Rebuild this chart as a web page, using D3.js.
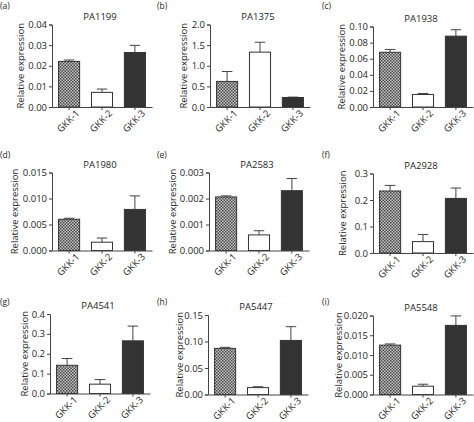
<!DOCTYPE html>
<html>
<head>
<meta charset="utf-8">
<script src="https://cdn.jsdelivr.net/npm/d3@7"></script>
<style>
  body { margin: 0; background: #fff; }
  svg { display: block; font-family: "Open Sans", "Noto Sans", sans-serif; }
</style>
</head>
<body>
<div id="vis"></div>
<script>
// 3x3 grid of bar charts: relative expression per strain, mean + upper SD bar.

const LETTERS = ["a", "b", "c", "d", "e", "f", "g", "h", "i"];
const TITLES  = ["PA1199", "PA1375", "PA1938", "PA1980", "PA2583", "PA2928", "PA4541", "PA5447", "PA5548"];
const GROUPS  = ["GKK-1", "GKK-2", "GKK-3"];

const MEANS = [
  [0.0221, 0.0071, 0.0264],
  [0.62,   1.33,   0.23],
  [0.068,  0.0155, 0.088],
  [0.0060, 0.0016, 0.0079],
  [0.00206, 0.0006, 0.0023],
  [0.234,  0.043,  0.206],
  [0.142,  0.047,  0.265],
  [0.087,  0.013,  0.102],
  [0.0125, 0.0021, 0.0175],
];
const ERR_TOPS = [
  [0.0228, 0.0087, 0.0299],
  [0.86,   1.57,   0.24],
  [0.0715, 0.0168, 0.096],
  [0.0062, 0.0024, 0.0105],
  [0.0021, 0.00076, 0.00277],
  [0.255,  0.070,  0.245],
  [0.176,  0.070,  0.339],
  [0.089,  0.0147, 0.128],
  [0.0128, 0.0026, 0.0199],
];
const Y_TICKS = [
  ["0.00", "0.01", "0.02", "0.03", "0.04"],
  ["0.0", "0.5", "1.0", "1.5", "2.0"],
  ["0.00", "0.02", "0.04", "0.06", "0.08", "0.10"],
  ["0.000", "0.005", "0.010", "0.015"],
  ["0.000", "0.001", "0.002", "0.003"],
  ["0.0", "0.1", "0.2", "0.3"],
  ["0.0", "0.1", "0.2", "0.3", "0.4"],
  ["0.00", "0.05", "0.10", "0.15"],
  ["0.000", "0.005", "0.010", "0.015", "0.020"],
];

// per-panel layout (pixels)
const AXIS_X   = [52, 210, 373, 52, 209, 373, 50, 208, 373];
const AXIS_TOP = [24.5, 24.5, 26.5, 172.5, 172.5, 173.5, 314, 315, 315.5];
const AXIS_BOT = [107, 107, 107, 250.5, 250.5, 253, 393.5, 394.5, 394.5];
const YTITLE_X = [21, 184, 342, 15, 173, 343, 25, 180, 339];
const LETTER_X = [0, 157, 322];
const LETTER_Y = [9, 158, 305];
const PLOT_W   = 100;

const W = 474, H = 422;
const TEXT_COLOR = "#262626";
const LINE_COLOR = "#444";

const svg = d3.select("#vis").append("svg").attr("width", W).attr("height", H);

const pat = svg.append("defs").append("pattern")
  .attr("id", "check").attr("patternUnits", "userSpaceOnUse")
  .attr("width", 3).attr("height", 3);
pat.append("rect").attr("width", 3).attr("height", 3).attr("fill", "#c4c4c4");
pat.append("rect").attr("width", 1.5).attr("height", 1.5).attr("fill", "#4a4a4a");
pat.append("rect").attr("x", 1.5).attr("y", 1.5).attr("width", 1.5).attr("height", 1.5).attr("fill", "#4a4a4a");

const FILLS = ["url(#check)", "#ffffff", "#333333"];

TITLES.forEach((title, i) => {
  const row = Math.floor(i / 3), col = i % 3;
  const x0 = AXIS_X[i];
  const yTop = AXIS_TOP[i], yBot = AXIS_BOT[i];
  const ticks = Y_TICKS[i].map(Number);
  const yMax = ticks[ticks.length - 1];

  const x = d3.scaleBand().domain(GROUPS).range([x0, x0 + PLOT_W])
    .paddingInner(0.36).paddingOuter(0.2);
  const y = d3.scaleLinear().domain([0, yMax]).range([yBot, yTop]);

  const g = svg.append("g");

  g.append("text")
    .attr("x", LETTER_X[col]).attr("y", LETTER_Y[row])
    .style("font-size", "8.5px").style("fill", TEXT_COLOR)
    .text(`(${LETTERS[i]})`);

  g.append("text")
    .attr("x", x0 + PLOT_W / 2 - 2).attr("y", yTop - 5)
    .attr("text-anchor", "middle")
    .style("font-size", "9.5px").style("fill", TEXT_COLOR)
    .text(title);

  const data = GROUPS.map((grp, k) => ({ grp, k, mean: MEANS[i][k], err: ERR_TOPS[i][k] }));
  const cx = d => x(d.grp) + x.bandwidth() / 2;

  // upper error bars (stem + cap), drawn beneath bars
  g.selectAll("line.err").data(data).join("line")
    .attr("class", "err")
    .attr("x1", cx).attr("x2", cx)
    .attr("y1", d => y(d.mean)).attr("y2", d => y(d.err))
    .attr("stroke", LINE_COLOR).attr("stroke-width", 1);
  g.selectAll("line.cap").data(data).join("line")
    .attr("class", "cap")
    .attr("x1", d => x(d.grp) + x.bandwidth() * 0.25).attr("x2", d => x(d.grp) + x.bandwidth() * 0.75)
    .attr("y1", d => y(d.err)).attr("y2", d => y(d.err))
    .attr("stroke", LINE_COLOR).attr("stroke-width", 1);

  g.selectAll("rect.bar").data(data).join("rect")
    .attr("class", "bar")
    .attr("x", d => x(d.grp)).attr("width", x.bandwidth())
    .attr("y", d => y(d.mean)).attr("height", d => yBot - y(d.mean))
    .attr("fill", d => FILLS[d.k])
    .attr("stroke", "#333").attr("stroke-width", 1);

  g.append("g")
    .attr("transform", `translate(${x0},0)`)
    .call(d3.axisLeft(y).tickValues(ticks).tickSize(3).tickPadding(2)
      .tickFormat((d, j) => Y_TICKS[i][j]))
    .call(ax => ax.select(".domain").attr("stroke", LINE_COLOR))
    .call(ax => ax.selectAll(".tick line").attr("stroke", LINE_COLOR))
    .selectAll("text").style("font-size", "9.5px").style("fill", TEXT_COLOR)
      .style("font-family", "'Open Sans', 'Noto Sans', sans-serif");

  g.append("g")
    .attr("transform", `translate(0,${yBot})`)
    .call(d3.axisBottom(x).tickSize(3).tickSizeOuter(0).tickPadding(3))
    .call(ax => ax.select(".domain").attr("stroke", LINE_COLOR))
    .call(ax => ax.selectAll(".tick line").attr("stroke", LINE_COLOR))
    .selectAll("text")
      .style("font-size", "9.5px").style("fill", TEXT_COLOR)
      .style("font-family", "'Open Sans', 'Noto Sans', sans-serif")
      .attr("text-anchor", "end")
      .attr("transform", "rotate(-45)")
      .attr("dx", "0.3em").attr("dy", "0.7em");

  g.append("text")
    .attr("transform", `translate(${YTITLE_X[i]},${(yTop + yBot) / 2}) rotate(-90)`)
    .attr("text-anchor", "middle").attr("dy", "0.35em")
    .style("font-size", "9.5px").style("fill", TEXT_COLOR)
    .text("Relative expression");
});
</script>
</body>
</html>
